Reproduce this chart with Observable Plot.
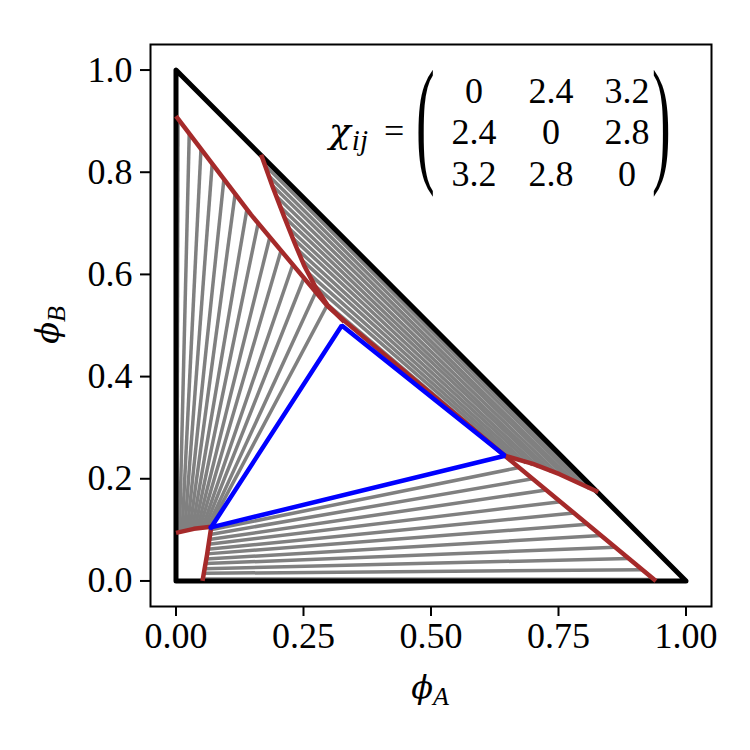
<!DOCTYPE html>
<html><head><meta charset="utf-8">
<script src="https://cdn.jsdelivr.net/npm/d3@7"></script>
<script src="https://cdn.jsdelivr.net/npm/@observablehq/plot@0.6"></script>
<style>body{margin:0;background:#fff}</style>
</head><body><div id="chart"></div>
<script>
// ---- axis ticks ----
const xTicks = [0, 0.25, 0.5, 0.75, 1];
const yTicks = [0, 0.2, 0.4, 0.6, 0.8, 1];

// ---- Flory-Huggins matrix shown in the annotation ----
const chiRow1 = [0, 2.4, 3.2];
const chiRow2 = [2.4, 0, 2.8];
const chiRow3 = [3.2, 2.8, 0];

// ---- Gibbs simplex (phi_A, phi_B) ----
const simplexA = [0, 1, 0, 0];
const simplexB = [0, 0, 1, 0];

// ---- three-phase triangle ----
const triA = [0.069, 0.325, 0.645, 0.069];
const triB = [0.105, 0.500, 0.245, 0.105];

// ---- binodal branches ----
const br1A = [0.000, 0.147, 0.297, 0.329, 0.645, 0.941];
const br1B = [0.910, 0.717, 0.538, 0.510, 0.245, 0.000];
const br2A = [0.167, 0.190, 0.212, 0.232, 0.251, 0.272, 0.297, 0.330];
const br2B = [0.834, 0.770, 0.713, 0.663, 0.618, 0.578, 0.540, 0.507];
const br3A = [0.828, 0.752, 0.700, 0.645];
const br3B = [0.174, 0.209, 0.229, 0.245];
const br4A = [0.000, 0.035, 0.069];
const br4B = [0.094, 0.102, 0.106];
const br5A = [0.069, 0.061, 0.052];
const br5B = [0.105, 0.052, 0.000];

// ---- tie lines, B–C region ----
const tieBC_A1 = [0.004,0.026,0.049,0.071,0.094,0.116,0.139,0.161,0.184,0.206,0.229,0.251,0.274,0.296];
const tieBC_B1 = [0.905,0.876,0.846,0.817,0.787,0.758,0.727,0.700,0.673,0.647,0.619,0.593,0.565,0.539];
const tieBC_A2 = [0.002,0.007,0.012,0.017,0.022,0.027,0.032,0.037,0.042,0.047,0.052,0.057,0.062,0.066];
const tieBC_B2 = [0.094,0.096,0.097,0.098,0.099,0.100,0.101,0.102,0.103,0.104,0.104,0.105,0.105,0.106];

// ---- tie lines, A–B region ----
const tieAB_A1 = [0.174,0.181,0.189,0.196,0.204,0.212,0.220,0.229,0.237,0.247,0.258,0.272,0.296];
const tieAB_B1 = [0.814,0.794,0.774,0.754,0.733,0.713,0.692,0.671,0.650,0.628,0.604,0.578,0.542];
const tieAB_A2 = [0.810,0.795,0.779,0.764,0.749,0.736,0.724,0.711,0.699,0.686,0.674,0.661,0.649];
const tieAB_B2 = [0.181,0.189,0.196,0.204,0.210,0.214,0.219,0.223,0.227,0.231,0.235,0.240,0.244];

// ---- tie lines, A–C region ----
const tieAC_A1 = [0.068,0.067,0.065,0.064,0.062,0.061,0.059,0.058,0.056,0.054,0.053];
const tieAC_B1 = [0.100,0.091,0.081,0.072,0.062,0.053,0.043,0.034,0.024,0.015,0.004];
const tieAC_A2 = [0.673,0.699,0.726,0.754,0.780,0.807,0.833,0.861,0.888,0.914,0.937];
const tieAC_B2 = [0.222,0.200,0.178,0.155,0.133,0.111,0.089,0.066,0.044,0.022,0.003];

// ---- build tables ----
const pts = (A, B, id) => A.map((a, i) => ({a, b: B[i], id}));
const simplex = pts(simplexA, simplexB, "s");
const tri = pts(triA, triB, "t");
const binodals = [
  ...pts(br1A, br1B, 1), ...pts(br2A, br2B, 2), ...pts(br3A, br3B, 3),
  ...pts(br4A, br4B, 4), ...pts(br5A, br5B, 5)
];
const ties = (A1, B1, A2, B2) => A1.map((a, i) => ({a1: a, b1: B1[i], a2: A2[i], b2: B2[i]}));
const tieLines = [
  ...ties(tieBC_A1, tieBC_B1, tieBC_A2, tieBC_B2),
  ...ties(tieAB_A1, tieAB_B1, tieAB_A2, tieAB_B2),
  ...ties(tieAC_A1, tieAC_B1, tieAC_A2, tieAC_B2)
];

const FONT = "Liberation Serif, DejaVu Serif, serif";
const GREEK = "DejaVu Serif";
const FS = 36;

const chart = Plot.plot({
  width: 750, height: 750,
  marginLeft: 150, marginRight: 39, marginTop: 44, marginBottom: 144,
  x: {domain: [-0.05, 1.05]},
  y: {domain: [-0.05, 1.05]},
  style: {fontFamily: FONT, fontSize: FS + "px", color: "black", background: "white"},
  marks: [
    Plot.axisX({ticks: xTicks, tickFormat: d3.format(".2f"), tickSize: 10, tickPadding: 6, strokeWidth: 2, label: null, fontSize: FS}),
    Plot.axisY({ticks: yTicks, tickFormat: d3.format(".1f"), tickSize: 10, tickPadding: 8, strokeWidth: 2, label: null, fontSize: FS}),
    Plot.link(tieLines, {x1: "a1", y1: "b1", x2: "a2", y2: "b2", stroke: "#808080", strokeWidth: 3.5}),
    Plot.line(simplex, {x: "a", y: "b", stroke: "black", strokeWidth: 5, strokeLinejoin: "round", strokeLinecap: "round"}),
    Plot.line(binodals, {x: "a", y: "b", z: "id", stroke: "#a52a2a", strokeWidth: 4.5, strokeLinecap: "butt"}),
    Plot.line(tri, {x: "a", y: "b", stroke: "#0000ff", strokeWidth: 4.5, strokeLinejoin: "miter", strokeLinecap: "square"}),
    Plot.frame({stroke: "black", strokeWidth: 2})
  ]
});
document.getElementById("chart").appendChild(chart);

// ---- text annotations ----
const svg = d3.select(chart);
const g = svg.append("g").style("font-family", FONT).style("font-size", FS + "px").attr("fill", "black");

// axis labels
const xl = g.append("text").attr("x", 430).attr("y", 698).attr("text-anchor", "middle");
xl.append("tspan").style("font-family", GREEK).style("font-style", "italic").style("font-size", "32px").text("ϕ");
xl.append("tspan").style("font-style", "italic").style("font-size", "26px").attr("dy", 7).text("A");

const yl = g.append("text").attr("transform", "translate(58,325) rotate(-90)").attr("text-anchor", "middle");
yl.append("tspan").style("font-family", GREEK).style("font-style", "italic").style("font-size", "32px").text("ϕ");
yl.append("tspan").style("font-style", "italic").style("font-size", "26px").attr("dy", 7).text("B");

// chi matrix
const chi = g.append("text").attr("x", 329).attr("y", 143).attr("text-anchor", "start");
chi.append("tspan").style("font-family", GREEK).style("font-style", "italic").style("font-size", "36px").text("χ");
chi.append("tspan").style("font-style", "italic").style("font-size", "29px").attr("dx", 1).attr("dy", 7).text("ij");
g.append("text").attr("x", 384).attr("y", 143).attr("text-anchor", "start").text("=");

const fmt = v => v === 0 ? "0" : d3.format(".1f")(v);
const colX = [474, 551, 627];
const rowY = [103, 144, 186];
[chiRow1, chiRow2, chiRow3].forEach((row, r) => {
  row.forEach((v, c) => {
    g.append("text").attr("x", colX[c]).attr("y", rowY[r]).attr("text-anchor", "middle").text(fmt(v));
  });
});
g.append("text").attr("transform", "translate(416,167) scale(1,2.5)").attr("text-anchor", "start").style("font-size", "56px").text("(");
g.append("text").attr("transform", "translate(652,167) scale(1,2.5)").attr("text-anchor", "start").style("font-size", "56px").text(")");
</script>
</body></html>
